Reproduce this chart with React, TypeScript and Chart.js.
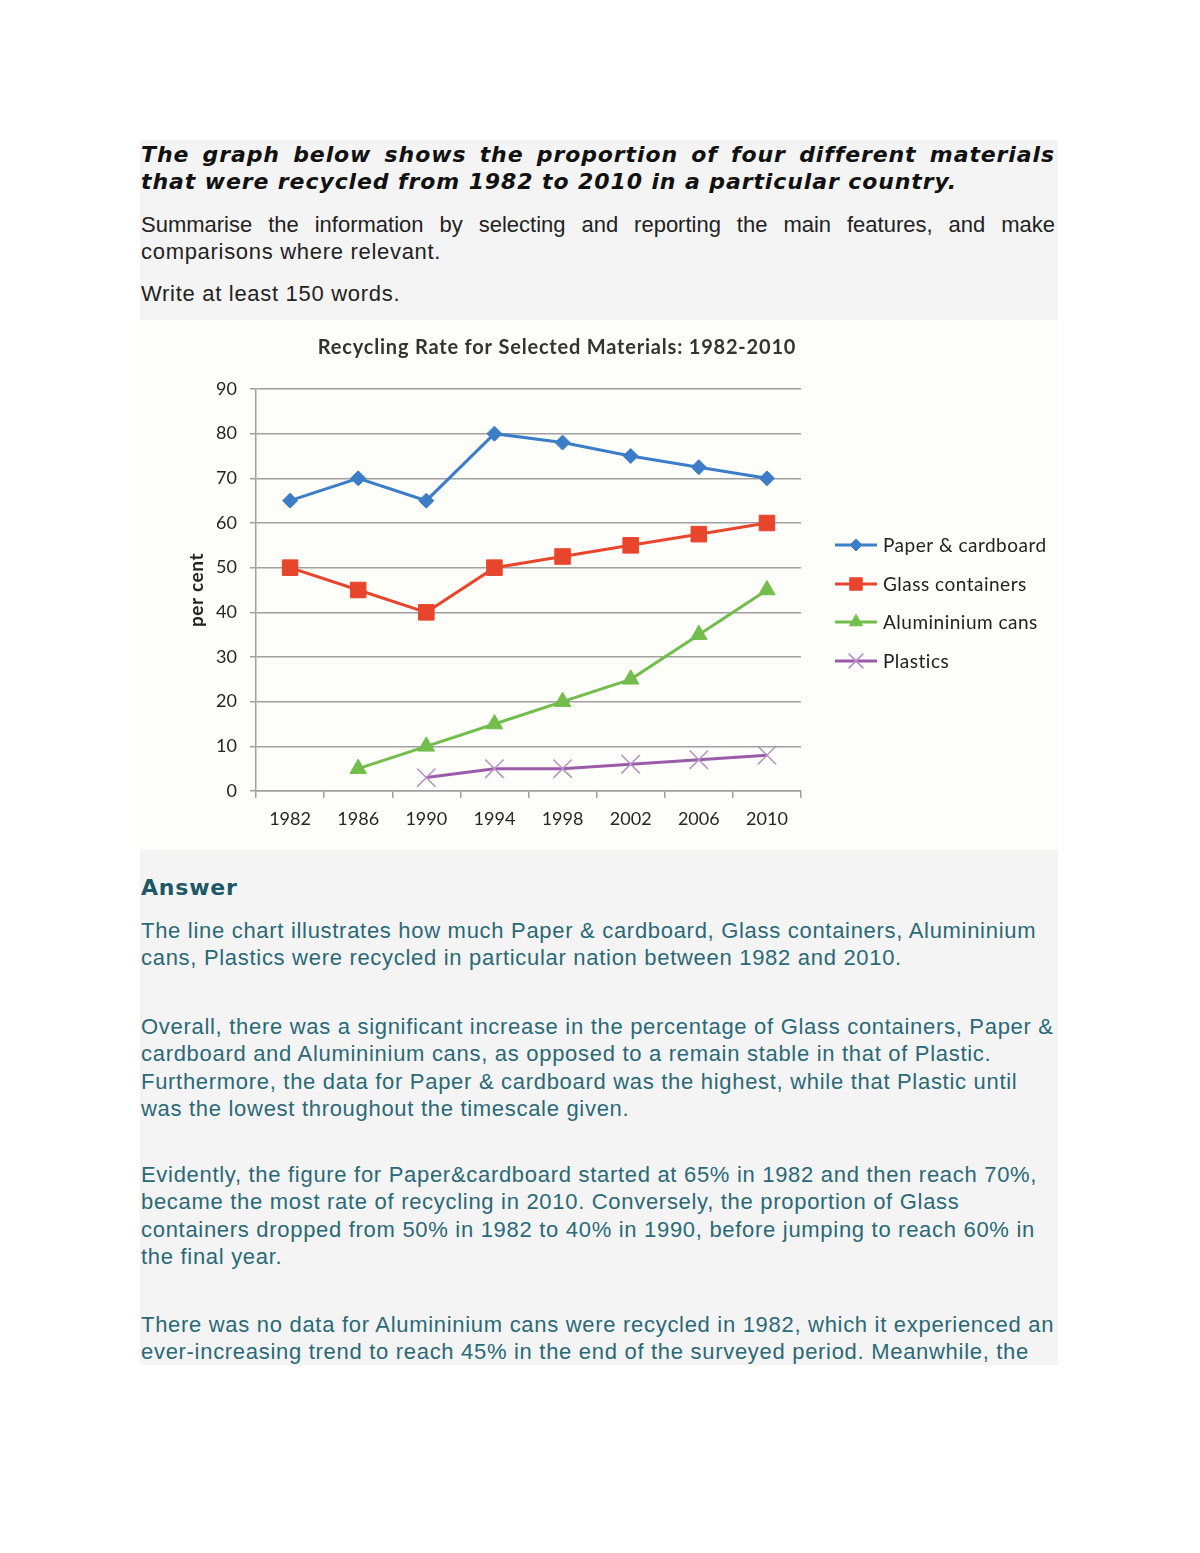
import React, { useEffect, useRef } from "react";
import { Chart, registerables } from "chart.js";
import { drawPoint } from "chart.js/helpers";

Chart.register(...registerables);

const years = ["1982", "1986", "1990", "1994", "1998", "2002", "2006", "2010"];
const paperCardboard = [65, 70, 65, 80, 78, 75, 72.5, 70];
const glassContainers = [50, 45, 40, 50, 52.5, 55, 57.5, 60];
const aluminiumCans = [null, 5, 10, 15, 20, 25, 35, 45];
const plastics = [null, null, 3, 5, 5, 6, 7, 8];
const seriesNames = ["Paper & cardboard", "Glass containers", "Alumininium cans", "Plastics"];
const yTicks = [0, 10, 20, 30, 40, 50, 60, 70, 80, 90];
const chartTitle = "Recycling Rate for Selected Materials: 1982-2010";
const yAxisTitle = "per cent";

const promptLine1 = "The graph below shows the proportion of four different materials";
const promptLine2 = "that were recycled from 1982 to 2010 in a particular country.";
const summariseLine1 = "Summarise the information by selecting and reporting the main features, and make";
const summariseLine2 = "comparisons where relevant.";
const writeLine = "Write at least 150 words.";
const answerHeading = "Answer";
const answerParagraphs = [
  [
    "The line chart illustrates how much Paper & cardboard, Glass containers, Alumininium",
    "cans, Plastics were recycled in particular nation between 1982 and 2010.",
  ],
  [
    "Overall, there was a significant increase in the percentage of Glass containers, Paper &",
    "cardboard and Alumininium cans, as opposed to a remain stable in that of Plastic.",
    "Furthermore, the data for Paper & cardboard was the highest, while that Plastic until",
    "was the lowest throughout the timescale given.",
  ],
  [
    "Evidently, the figure for Paper&cardboard started at 65% in 1982 and then reach 70%,",
    "became the most rate of recycling in 2010. Conversely, the proportion of Glass",
    "containers dropped from 50% in 1982 to 40% in 1990, before jumping to reach 60% in",
    "the final year.",
  ],
  [
    "There was no data for Alumininium cans were recycled in 1982, which it experienced an",
    "ever-increasing trend to reach 45% in the end of the surveyed period. Meanwhile, the",
  ],
];
const paragraphTops = [917, 1013, 1161, 1311];

const colors = ["#3c7dc8", "#e8452d", "#72bd4c", "#9a5ca8"];
const pointStyles = ["rectRot", "rect", "triangle", "crossRot"];
const pointRadii = [7.5, 11, 9.5, 13];

const CHART_FONT = "Lato, 'Open Sans', sans-serif";

function ChartBlock() {
  const ref = useRef<HTMLCanvasElement | null>(null);
  useEffect(() => {
    if (!ref.current) return;
    const seriesData = [paperCardboard, glassContainers, aluminiumCans, plastics];
    const decorPlugin = {
      id: "decor",
      afterDraw(chart: any) {
        const ctx = chart.ctx;
        ctx.save();
        // title
        ctx.fillStyle = "#333333";
        ctx.font = `bold 20px ${CHART_FONT}`;
        (ctx as any).letterSpacing = "0.8px";
        ctx.textAlign = "center";
        ctx.textBaseline = "middle";
        ctx.fillText(chartTitle, 417, 28);
        // y axis title
        ctx.save();
        ctx.translate(57, 270);
        ctx.rotate(-Math.PI / 2);
        ctx.font = `bold 19px ${CHART_FONT}`;
        (ctx as any).letterSpacing = "0.6px";
        ctx.fillStyle = "#222222";
        ctx.fillText(yAxisTitle, 0, 0);
        ctx.restore();
        // legend
        const legendY = [225, 264, 302, 341];
        seriesNames.forEach((name, i) => {
          const y = legendY[i];
          (ctx as any).letterSpacing = "0px";
          ctx.strokeStyle = colors[i];
          ctx.lineWidth = 3;
          ctx.beginPath();
          ctx.moveTo(695, y);
          ctx.lineTo(737, y);
          ctx.stroke();
          ctx.fillStyle = i === 3 ? "#b590c8" : colors[i];
          ctx.strokeStyle = i === 3 ? "#b590c8" : colors[i];
          ctx.lineWidth = i === 3 ? 1.5 : 1;
          drawPoint(ctx, { pointStyle: pointStyles[i], radius: pointRadii[i] * 0.8, rotation: 0, borderWidth: ctx.lineWidth }, 716, y);
          ctx.fillStyle = "#222222";
          ctx.font = `19px ${CHART_FONT}`;
          (ctx as any).letterSpacing = "0.5px";
          ctx.textAlign = "left";
          ctx.textBaseline = "middle";
          ctx.fillText(name, 743, y + 1);
        });
        ctx.restore();
      },
    };
    const chart = new Chart(ref.current, {
      type: "line",
      data: {
        labels: years,
        datasets: seriesNames.map((name, i) => ({
          label: name,
          data: seriesData[i],
          borderColor: colors[i],
          backgroundColor: colors[i],
          borderWidth: 3,
          pointStyle: pointStyles[i] as any,
          pointRadius: pointRadii[i],
          pointBackgroundColor: colors[i],
          pointBorderColor: i === 3 ? "#b590c8" : colors[i],
          pointBorderWidth: i === 3 ? 1.5 : 1,
          tension: 0,
          fill: false,
          spanGaps: false,
        })),
      },
      options: {
        animation: false,
        responsive: false,
        maintainAspectRatio: false,
        devicePixelRatio: 1,
        layout: { padding: { top: 69, right: 257, left: 0, bottom: 0 } },
        plugins: {
          legend: { display: false },
          title: { display: false },
          tooltip: { enabled: false },
        },
        scales: {
          x: {
            type: "category",
            offset: true,
            afterFit: (s: any) => {
              s.height = 59;
            },
            grid: {
              offset: true,
              drawOnChartArea: false,
              drawTicks: true,
              tickLength: 7,
              color: "#a0a0a0",
              lineWidth: 1.5,
            },
            border: { display: true, color: "#a0a0a0", width: 1.5 },
            ticks: {
              color: "#262626",
              font: { family: CHART_FONT, size: 18 },
              padding: 10,
              maxRotation: 0,
              autoSkip: false,
            },
          },
          y: {
            min: 0,
            max: 90,
            afterFit: (s: any) => {
              s.width = 116;
            },
            afterBuildTicks: (s: any) => {
              s.ticks = yTicks.map((v) => ({ value: v }));
            },
            grid: {
              color: "#a0a0a0",
              lineWidth: 1.5,
              drawTicks: true,
              tickLength: 6,
            },
            border: { display: true, color: "#a0a0a0", width: 1.5 },
            ticks: {
              color: "#262626",
              font: { family: CHART_FONT, size: 18 },
              padding: 13,
            },
          },
        },
      },
      plugins: [decorPlugin],
    });
    return () => chart.destroy();
  }, []);
  return (
    <canvas
      ref={ref}
      width={918}
      height={530}
      style={{ position: "absolute", left: 0, top: 0, width: 918, height: 530 }}
    />
  );
}

const sansText: React.CSSProperties = {
  fontFamily: "'Liberation Sans', Arial, sans-serif",
  fontSize: 22,
  letterSpacing: 0.7,
  lineHeight: "27px",
  position: "absolute",
  left: 141,
  whiteSpace: "nowrap",
};

export default function App() {
  return (
    <div style={{ position: "absolute", left: 0, top: 0, width: 1200, height: 1553, background: "#ffffff" }}>
      {/* prompt block */}
      <div style={{ position: "absolute", left: 140, top: 140, width: 918, height: 180, background: "#f4f4f4" }} />
      <div
        style={{
          position: "absolute",
          left: 141,
          top: 141,
          width: 914,
          fontFamily: "'DejaVu Sans', Verdana, sans-serif",
          fontWeight: "bold",
          fontStyle: "italic",
          fontSize: 22,
          letterSpacing: 0.9,
          lineHeight: "27px",
          color: "#111111",
        }}
      >
        <div style={{ textAlign: "justify", textAlignLast: "justify" } as React.CSSProperties}>{promptLine1}</div>
        <div style={{ whiteSpace: "nowrap" }}>{promptLine2}</div>
      </div>
      <div style={{ ...sansText, top: 211, width: 914, whiteSpace: "normal", color: "#222222" }}>
        <div style={{ textAlign: "justify", textAlignLast: "justify", letterSpacing: 0 } as React.CSSProperties}>
          {summariseLine1}
        </div>
        <div>{summariseLine2}</div>
      </div>
      <div style={{ ...sansText, top: 280, color: "#222222" }}>{writeLine}</div>

      {/* chart block */}
      <div style={{ position: "absolute", left: 140, top: 320, width: 918, height: 530, background: "#fdfdfa" }}>
        <ChartBlock />
      </div>

      {/* answer block */}
      <div style={{ position: "absolute", left: 140, top: 850, width: 918, height: 515, background: "#f4f4f4" }} />
      <div
        style={{
          position: "absolute",
          left: 141,
          top: 874,
          fontFamily: "'DejaVu Sans', Verdana, sans-serif",
          fontWeight: "bold",
          fontSize: 22,
          letterSpacing: 0.8,
          lineHeight: "27px",
          color: "#1c5866",
        }}
      >
        {answerHeading}
      </div>
      {answerParagraphs.map((lines, pi) => (
        <div key={pi} style={{ ...sansText, top: paragraphTops[pi], lineHeight: "27.3px", color: "#2a6977" }}>
          {lines.map((l, li) => (
            <div key={li}>{l}</div>
          ))}
        </div>
      ))}
    </div>
  );
}
